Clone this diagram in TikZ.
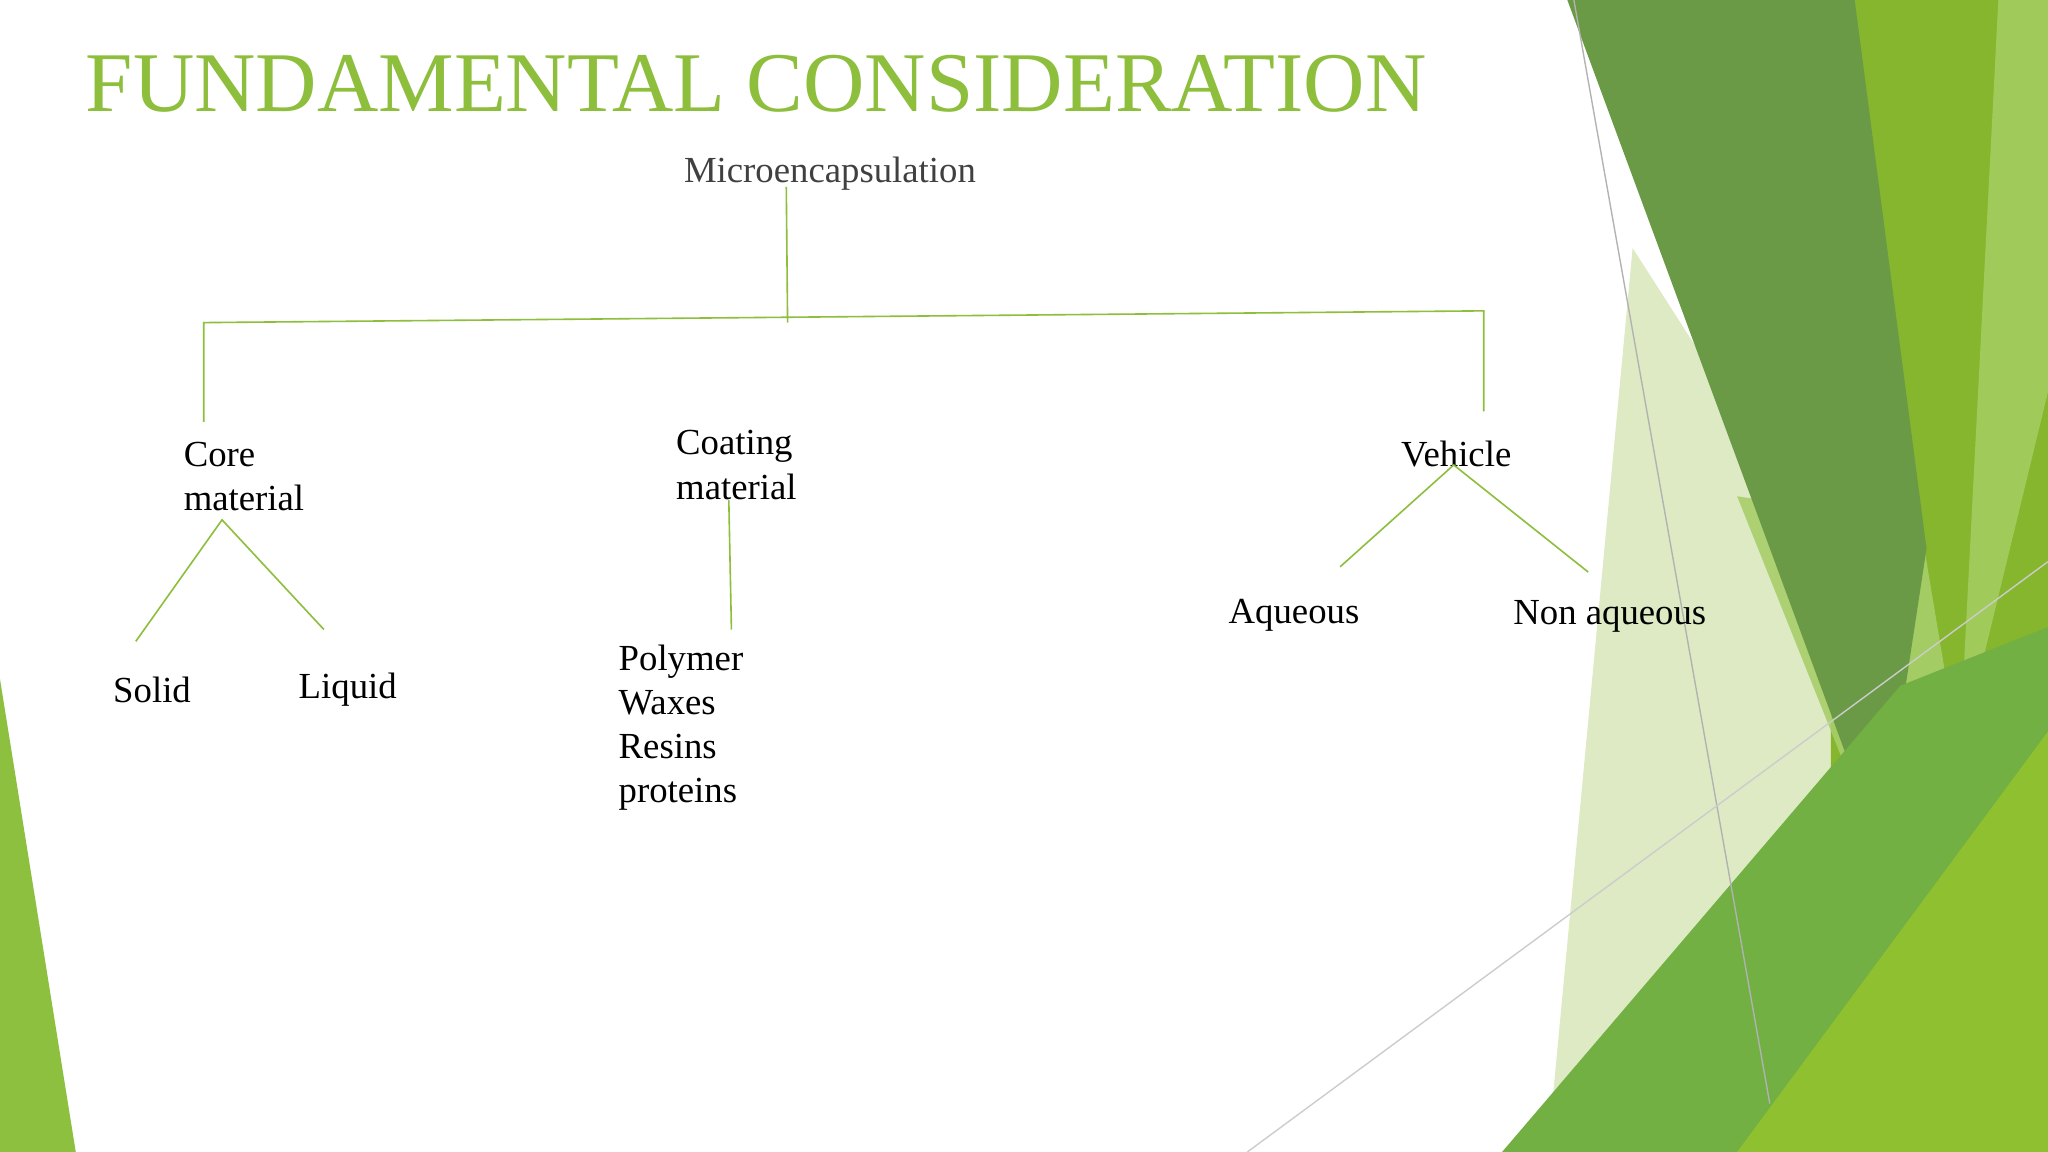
\documentclass[tikz,border=0pt]{standalone}
\usepackage{fontspec}
\setmainfont{Liberation Serif}
\begin{document}
\begin{tikzpicture}[x=0.01cm,y=-0.01cm,
  lbl/.style={anchor=west,font=\fontsize{8}{9.6}\selectfont,inner sep=0pt,align=left},
  br/.style={draw=lg,line width=0.35pt}]
\definecolor{lg}{HTML}{8DBE3C}
\useasboundingbox (0,0) rectangle (1568,882);
\fill[white] (0,0) rectangle (1568,882);
% background shapes
\fill[color={rgb,255:red,221;green,234;blue,196}] (1250,190)--(1500,580)--(1350,882)--(1185,882)--cycle;
\fill[color={rgb,255:red,134;green,182;blue,46}] (1405,0)--(1568,0)--(1568,882)--(1400,882)--cycle;
\fill[color={rgb,255:red,160;green,203;blue,90}] (1530,0)--(1568,0)--(1568,300)--(1500,580)--cycle;
\fill[color={rgb,255:red,168;green,207;blue,106},opacity=.9] (1330,380)--(1470,400)--(1500,580)--(1410,580)--cycle;
\fill[color={rgb,255:red,106;green,154;blue,70}] (1200,0)--(1420,0)--(1475,420)--(1440,650)--cycle;
\fill[color={rgb,255:red,114;green,176;blue,67}] (1150,882)--(1455,525)--(1568,480)--(1568,882)--cycle;
\fill[color={rgb,255:red,143;green,192;blue,48}] (1330,882)--(1568,560)--(1568,882)--cycle;
\fill[color={rgb,255:red,141;green,192;blue,63}] (0,520)--(0,882)--(58,882)--cycle;
\draw[gray!60,line width=0.3pt] (1205,0)--(1355,845);
\draw[gray!40,line width=0.3pt] (955,882)--(1568,430);
% title
\node[anchor=west,inner sep=0pt,text=lg,font=\fontsize{18.5}{20}\selectfont] (title) at (65,64) {FUNDAMENTAL CONSIDERATION};
% texts
\node[lbl,text=black!75] (micro) at (523,133) {Microencapsulation};
\node[lbl] (core) at (140,365) {Core\\material};
\node[lbl] (coat) at (517,356) {Coating\\material};
\node[lbl] (veh) at (1072,348) {Vehicle};
\node[lbl] (solid) at (86,528) {Solid};
\node[lbl] (liquid) at (228,528) {Liquid};
\node[lbl] (poly) at (473,557) {Polymer\\Waxes\\Resins\\proteins};
\node[lbl] (aq) at (940,471) {Aqueous};
\node[lbl] (naq) at (1158,472) {Non aqueous};
% connectors
\coordinate (m1) at (602,143); \coordinate (m2) at (603,247);
\coordinate (l) at (156,247); \coordinate (r) at (1136,238);
\coordinate (l2) at (156,323); \coordinate (r2) at (1136,315);
\draw[br] (m1)--(m2);
\draw[br] (l2)--(l)--(r)--(r2);
\coordinate (c0) at (170,398);
\draw[br] (104,491)--(c0)--(248,482);
\draw[br] (558,383)--(560,482);
\coordinate (v0) at (1113,356);
\draw[br] (1026,434)--(v0)--(1216,438);
\end{tikzpicture}
\end{document}
